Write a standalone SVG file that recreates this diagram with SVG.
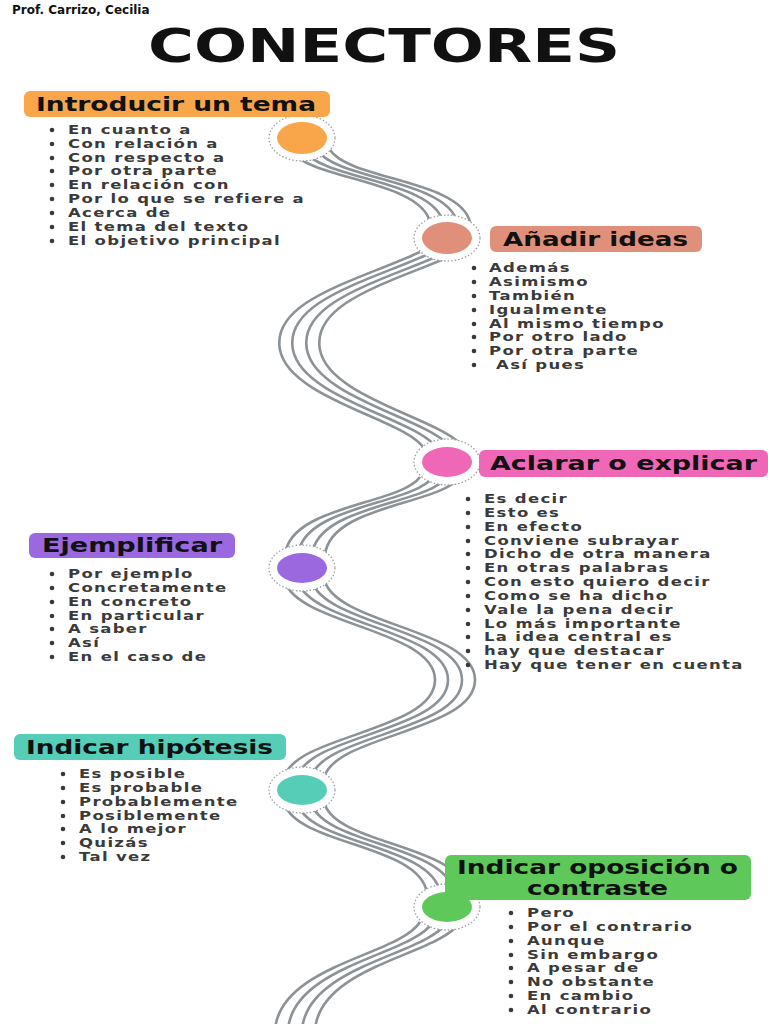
<svg xmlns="http://www.w3.org/2000/svg" xmlns:xlink="http://www.w3.org/1999/xlink" width="768" height="1024" viewBox="0 0 768 1024">
<style>
.t{font-family:"DejaVu Sans",sans-serif;font-weight:bold;fill:#3a3a3a;font-size:12.5px;letter-spacing:1px}
.h{font-family:"DejaVu Sans",sans-serif;font-weight:bold;fill:#111;font-size:19px}
.w{fill:none;stroke:#8c9296;stroke-width:2.6}
.ring{fill:#fff;stroke:#9aa0a4;stroke-width:1.3;stroke-dasharray:1.5 2}
</style>
<defs>
<path id="pA" d="M 310 150 C 330 180, 440 180, 450 222"/>
<path id="pB" d="M 440 252 C 380 280, 290 300, 300 350 C 310 400, 430 420, 445 450"/>
<path id="pC" d="M 440 477 C 420 505, 310 505, 305 555"/>
<path id="pD" d="M 305 582 C 320 625, 455 630, 455 680 C 455 730, 320 735, 305 775"/>
<path id="pE" d="M 305 805 C 320 845, 440 845, 447 893"/>
<path id="pF" d="M 440 922 C 420 955, 300 965, 295 1030"/>
</defs>
<rect width="768" height="1024" fill="#fff"/>
<text x="12" y="14" style="font-family:'DejaVu Sans',sans-serif;font-weight:bold;font-size:12px;fill:#111">Prof. Carrizo, Cecilia</text>
<text x="384" y="62" text-anchor="middle" textLength="472" lengthAdjust="spacingAndGlyphs" style="font-family:'DejaVu Sans',sans-serif;font-weight:bold;font-size:46px;fill:#111">CONECTORES</text>
<g id="connectors">
<g transform="translate(-20,0)"><use xlink:href="#pA" class="w"/><use xlink:href="#pB" class="w"/><use xlink:href="#pC" class="w"/><use xlink:href="#pD" class="w"/><use xlink:href="#pE" class="w"/><use xlink:href="#pF" class="w"/></g>
<g transform="translate(-7,0)"><use xlink:href="#pA" class="w"/><use xlink:href="#pB" class="w"/><use xlink:href="#pC" class="w"/><use xlink:href="#pD" class="w"/><use xlink:href="#pE" class="w"/><use xlink:href="#pF" class="w"/></g>
<g transform="translate(7,0)"><use xlink:href="#pA" class="w"/><use xlink:href="#pB" class="w"/><use xlink:href="#pC" class="w"/><use xlink:href="#pD" class="w"/><use xlink:href="#pE" class="w"/><use xlink:href="#pF" class="w"/></g>
<g transform="translate(20,0)"><use xlink:href="#pA" class="w"/><use xlink:href="#pB" class="w"/><use xlink:href="#pC" class="w"/><use xlink:href="#pD" class="w"/><use xlink:href="#pE" class="w"/><use xlink:href="#pF" class="w"/></g>
</g>
<g id="dot1"><ellipse cx="302" cy="138" rx="33" ry="23" class="ring"/><ellipse cx="302" cy="138" rx="25" ry="16" fill="#f9a64a"/></g>
<g id="dot2"><ellipse cx="447" cy="238" rx="33" ry="23" class="ring"/><ellipse cx="447" cy="238" rx="25" ry="16" fill="#e0907a"/></g>
<g id="dot3"><ellipse cx="447" cy="462" rx="33" ry="23" class="ring"/><ellipse cx="447" cy="462" rx="25" ry="15" fill="#ef67b7"/></g>
<g id="dot4"><ellipse cx="302" cy="568" rx="33" ry="23" class="ring"/><ellipse cx="302" cy="568" rx="25" ry="15" fill="#9b68e0"/></g>
<g id="dot5"><ellipse cx="302" cy="790" rx="33" ry="23" class="ring"/><ellipse cx="302" cy="790" rx="25" ry="15" fill="#55cdb7"/></g>
<g id="dot6"><ellipse cx="447" cy="907" rx="33" ry="23" class="ring"/><ellipse cx="447" cy="907" rx="25" ry="15" fill="#5ec95a"/></g>

<g id="n1"><rect x="24" y="91" width="306" height="26" rx="6" fill="#f9a64a"/><text x="36" y="111" class="h" textLength="280" lengthAdjust="spacingAndGlyphs">Introducir un tema</text>
<g fill="#3a3a3a"><circle cx="52" cy="130" r="2.3"/><circle cx="52" cy="144" r="2.3"/><circle cx="52" cy="158" r="2.3"/><circle cx="52" cy="171" r="2.3"/><circle cx="52" cy="185" r="2.3"/><circle cx="52" cy="199" r="2.3"/><circle cx="52" cy="213" r="2.3"/><circle cx="52" cy="227" r="2.3"/><circle cx="52" cy="241" r="2.3"/></g>
<text class="t" transform="translate(68,0) scale(1.32,1) translate(-68,0)"><tspan x="68" y="134">En cuanto a</tspan><tspan x="68" y="148">Con relación a</tspan><tspan x="68" y="162">Con respecto a</tspan><tspan x="68" y="175">Por otra parte</tspan><tspan x="68" y="189">En relación con</tspan><tspan x="68" y="203">Por lo que se refiere a</tspan><tspan x="68" y="217">Acerca de</tspan><tspan x="68" y="231">El tema del texto</tspan><tspan x="68" y="245">El objetivo principal</tspan></text></g>

<g id="n2"><rect x="490" y="226" width="212" height="26" rx="6" fill="#e0907a"/><text x="503" y="246" class="h" textLength="185" lengthAdjust="spacingAndGlyphs">Añadir ideas</text>
<g fill="#3a3a3a"><circle cx="474" cy="268" r="2.3"/><circle cx="474" cy="282" r="2.3"/><circle cx="474" cy="296" r="2.3"/><circle cx="474" cy="310" r="2.3"/><circle cx="474" cy="324" r="2.3"/><circle cx="474" cy="337" r="2.3"/><circle cx="474" cy="351" r="2.3"/><circle cx="474" cy="365" r="2.3"/></g>
<text class="t" transform="translate(489,0) scale(1.32,1) translate(-489,0)"><tspan x="489" y="272">Además</tspan><tspan x="489" y="286">Asimismo</tspan><tspan x="489" y="300">También</tspan><tspan x="489" y="314">Igualmente</tspan><tspan x="489" y="328">Al mismo tiempo</tspan><tspan x="489" y="341">Por otro lado</tspan><tspan x="489" y="355">Por otra parte</tspan><tspan x="489" y="369"> Así pues</tspan></text></g>

<g id="n3"><rect x="479" y="450" width="289" height="27" rx="6" fill="#ef67b7"/><text x="490" y="470" class="h" textLength="267" lengthAdjust="spacingAndGlyphs">Aclarar  o explicar</text>
<g fill="#3a3a3a"><circle cx="468" cy="499" r="2.3"/><circle cx="468" cy="513" r="2.3"/><circle cx="468" cy="527" r="2.3"/><circle cx="468" cy="541" r="2.3"/><circle cx="468" cy="554" r="2.3"/><circle cx="468" cy="568" r="2.3"/><circle cx="468" cy="582" r="2.3"/><circle cx="468" cy="596" r="2.3"/><circle cx="468" cy="610" r="2.3"/><circle cx="468" cy="624" r="2.3"/><circle cx="468" cy="637" r="2.3"/><circle cx="468" cy="651" r="2.3"/><circle cx="468" cy="665" r="2.3"/></g>
<text class="t" transform="translate(484,0) scale(1.32,1) translate(-484,0)"><tspan x="484" y="503">Es decir</tspan><tspan x="484" y="517">Esto es</tspan><tspan x="484" y="531">En efecto</tspan><tspan x="484" y="545">Conviene subrayar</tspan><tspan x="484" y="558">Dicho de otra manera</tspan><tspan x="484" y="572">En otras palabras</tspan><tspan x="484" y="586">Con esto quiero decir</tspan><tspan x="484" y="600">Como se ha dicho</tspan><tspan x="484" y="614">Vale la pena decir</tspan><tspan x="484" y="628">Lo más importante</tspan><tspan x="484" y="641">La idea central es</tspan><tspan x="484" y="655">hay que destacar</tspan><tspan x="484" y="669">Hay que tener en cuenta</tspan></text></g>

<g id="n4"><rect x="29" y="533" width="206" height="25" rx="6" fill="#9b68e0"/><text x="42" y="552" class="h" textLength="180" lengthAdjust="spacingAndGlyphs">Ejemplificar</text>
<g fill="#3a3a3a"><circle cx="52" cy="574" r="2.3"/><circle cx="52" cy="588" r="2.3"/><circle cx="52" cy="602" r="2.3"/><circle cx="52" cy="616" r="2.3"/><circle cx="52" cy="629" r="2.3"/><circle cx="52" cy="643" r="2.3"/><circle cx="52" cy="657" r="2.3"/></g>
<text class="t" transform="translate(68,0) scale(1.32,1) translate(-68,0)"><tspan x="68" y="578">Por ejemplo</tspan><tspan x="68" y="592">Concretamente</tspan><tspan x="68" y="606">En concreto</tspan><tspan x="68" y="620">En particular</tspan><tspan x="68" y="633">A saber</tspan><tspan x="68" y="647">Así</tspan><tspan x="68" y="661">En el caso de</tspan></text></g>

<g id="n5"><rect x="14" y="734" width="272" height="26" rx="6" fill="#55cdb7"/><text x="26" y="754" class="h" textLength="247" lengthAdjust="spacingAndGlyphs">Indicar hipótesis</text>
<g fill="#3a3a3a"><circle cx="63" cy="774" r="2.3"/><circle cx="63" cy="788" r="2.3"/><circle cx="63" cy="802" r="2.3"/><circle cx="63" cy="816" r="2.3"/><circle cx="63" cy="829" r="2.3"/><circle cx="63" cy="843" r="2.3"/><circle cx="63" cy="857" r="2.3"/></g>
<text class="t" transform="translate(79,0) scale(1.32,1) translate(-79,0)"><tspan x="79" y="778">Es posible</tspan><tspan x="79" y="792">Es probable</tspan><tspan x="79" y="806">Probablemente</tspan><tspan x="79" y="820">Posiblemente</tspan><tspan x="79" y="833">A lo mejor</tspan><tspan x="79" y="847">Quizás</tspan><tspan x="79" y="861">Tal vez</tspan></text></g>

<g id="n6"><rect x="445" y="855" width="306" height="45" rx="6" fill="#5ec95a"/><text x="457" y="874" class="h" textLength="281" lengthAdjust="spacingAndGlyphs">Indicar oposición o</text><text x="527" y="895" class="h" textLength="141" lengthAdjust="spacingAndGlyphs">contraste</text>
<g fill="#3a3a3a"><circle cx="511" cy="913" r="2.3"/><circle cx="511" cy="927" r="2.3"/><circle cx="511" cy="941" r="2.3"/><circle cx="511" cy="955" r="2.3"/><circle cx="511" cy="968" r="2.3"/><circle cx="511" cy="982" r="2.3"/><circle cx="511" cy="996" r="2.3"/><circle cx="511" cy="1010" r="2.3"/></g>
<text class="t" transform="translate(527,0) scale(1.32,1) translate(-527,0)"><tspan x="527" y="917">Pero</tspan><tspan x="527" y="931">Por el contrario</tspan><tspan x="527" y="945">Aunque</tspan><tspan x="527" y="959">Sin embargo</tspan><tspan x="527" y="972">A pesar de</tspan><tspan x="527" y="986">No obstante</tspan><tspan x="527" y="1000">En cambio</tspan><tspan x="527" y="1014">Al contrario</tspan></text></g>
</svg>
